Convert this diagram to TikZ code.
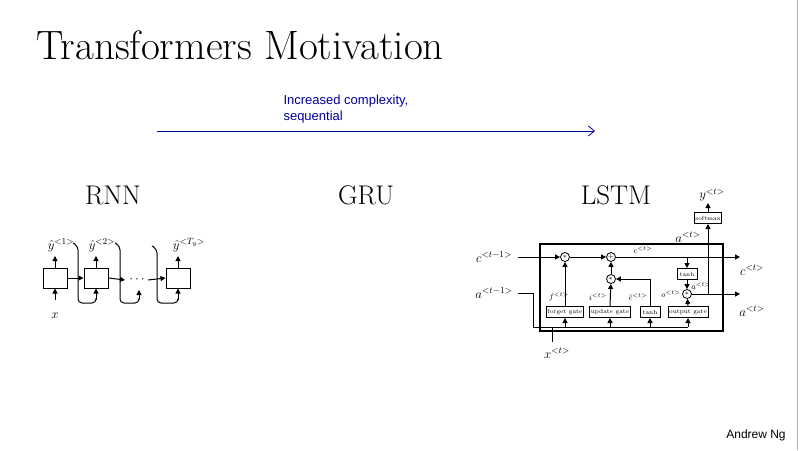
\RequirePackage{fix-cm}
\documentclass[tikz,border=0pt]{standalone}
\usepackage{fontspec}
\newfontfamily\sans{Liberation Sans}
\usetikzlibrary{arrows.meta}
\begin{document}
\begin{tikzpicture}[x=1pt,y=-1pt,
 ar/.style={-{Triangle[length=5pt,width=5pt]},line width=1pt},
 ln/.style={line width=1pt},
 cell/.style={draw,line width=1pt,minimum width=24pt,minimum height=20pt,inner sep=0},
 gate/.style={draw,line width=1pt,minimum height=11pt,inner sep=1pt,font=\fontsize{6}{6}\selectfont},
 op/.style={draw,circle,line width=0.8pt,minimum size=9pt,inner sep=0,font=\fontsize{7}{7}\selectfont},
 lab/.style={font=\fontsize{13}{13}\selectfont,inner sep=0},
 slab/.style={font=\fontsize{8}{8}\selectfont,inner sep=0}]
\useasboundingbox (0,0) rectangle (800,450);
\draw[gray!60] (797,0) -- (797,450);
\node[anchor=west,font=\fontsize{41}{41}\selectfont] (title) at (33,45) {Transformers Motivation};
\coordinate (as) at (157,131); \coordinate (ae) at (595,131);
\draw[blue!60!black,line width=0.8pt,-{Straight Barb[length=6pt,width=10pt]}] (as) -- (ae);
\node[anchor=west,text=blue!60!black,font=\sans\fontsize{13}{16}\selectfont,align=left] (inc) at (280,109) {Increased complexity,\\sequential};
\node[font=\fontsize{27}{27}\selectfont] (rnnl) at (113,195) {RNN};
\node[font=\fontsize{27}{27}\selectfont] (grul) at (366,195) {GRU};
\node[font=\fontsize{27}{27}\selectfont] (lstml) at (616,195) {LSTM};
\node[font=\sans\fontsize{12}{12}\selectfont] (ng) at (756,435) {Andrew Ng};
% RNN
\node[cell] (b1) at (55,278) {};
\node[cell] (b2) at (96,278) {};
\node[cell] (b3) at (178,278) {};
\node[lab] (y1) at (61,245) {$\hat y^{<1>}$};
\node[lab] (y2) at (102,245) {$\hat y^{<2>}$};
\node[lab] (y3) at (189,245) {$\hat y^{<T_y>}$};
\node[lab] (xl) at (55,316) {$x$};
\node[lab] (dots) at (137,280) {$\cdots$};
\coordinate (xb) at (55,300);
\draw[ar] (b1.north) -- (55,256);
\draw[ar] (b2.north) -- (96,256);
\draw[ar] (b3.north) -- (178,256);
\draw[ar] (xb) -- (b1.south);
\draw[ar] (b1.east) -- (b2.west);
\draw[ar] (b2.east) -- (125,280);
\draw[ar] (148,280) -- (b3.west);
\draw[ln,rounded corners=4pt] (73,243) -- (78,246) -- (78,303) -- (96,303) -- (96,298);
\draw[ar] (96,300) -- (b2.south);
\draw[ln,rounded corners=4pt] (115,243) -- (120,246) -- (120,303) -- (139,303) -- (139,298);
\draw[ar] (139,300) -- (139,290);
\draw[ln,rounded corners=4pt] (152,246) -- (157,249) -- (157,303) -- (178,303) -- (178,298);
\draw[ar] (178,300) -- (b3.south);
% LSTM
\draw[line width=1.2pt] (540,244) rectangle (723,331);
\node[op] (m1) at (565,257) {$*$};
\node[op] (pl) at (611,257) {$+$};
\node[op] (m2) at (611,279) {$*$};
\node[op] (m3) at (687,294) {$*$};
\node[gate,minimum width=20pt] (th1) at (687,274) {tanh};
\node[gate] (sm) at (708,218) {softmax};
\node[gate,minimum width=32pt] (fg) at (565,312) {forget gate};
\node[gate,minimum width=36pt] (ug) at (610,312) {update gate};
\node[gate,minimum width=20pt] (tg) at (650,312) {tanh};
\node[gate,minimum width=40pt] (og) at (688,312) {output gate};
\node[lab] (cin) at (494,257) {$c^{<t-1>}$};
\node[lab] (ain) at (494,293) {$a^{<t-1>}$};
\node[lab] (xin) at (557,353) {$x^{<t>}$};
\node[lab] (cout) at (752,270) {$c^{<t>}$};
\node[lab] (aout) at (752,311) {$a^{<t>}$};
\node[lab] (yout) at (712,195) {$y^{<t>}$};
\node[lab] (atop) at (688,237) {$a^{<t>}$};
\node[slab] (cmid) at (643,250) {$c^{<t>}$};
\node[slab] (ft) at (559,297) {$f^{<t>}$};
\node[slab] (it) at (598,297) {$i^{<t>}$};
\node[slab] (ct) at (638,297) {$\tilde c^{<t>}$};
\node[slab] (ot) at (671,294) {$o^{<t>}$};
\node[slab] (at) at (701,286) {$a^{<t>}$};
\coordinate (cs) at (518,257); \coordinate (ce) at (740,257);
\coordinate (as1) at (518,293); \coordinate (ae1) at (740,294);
\coordinate (xs) at (552,342);
\draw[ar] (cs) -- (m1);
\draw[ar] (m1) -- (pl);
\draw[ar] (pl) -- (ce);
\draw[ar] (687,257) -- (th1.north);
\draw[ar] (th1.south) -- (m3);
\draw[ar] (m3) -- (ae1);
\draw[ar] (708,294) -- (sm.south);
\draw[ar] (sm.north) -- (708,203);
\draw[ar] (fg.north) -- (m1);
\draw[ar] (ug.north) -- (m2);
\draw[ar] (m2) -- (pl);
\draw[ar] (tg.north) |- (m2);
\draw[ar] (og.north) -- (m3);
\draw[ln] (as1) -- (533,293) -- (533,327) -- (688,327);
\draw[ln] (xs) -- (552,327);
\foreach \g in {fg,ug,tg,og} \draw[ar] (\g.south |- 0,327) -- (\g.south);
\end{tikzpicture}
\end{document}
